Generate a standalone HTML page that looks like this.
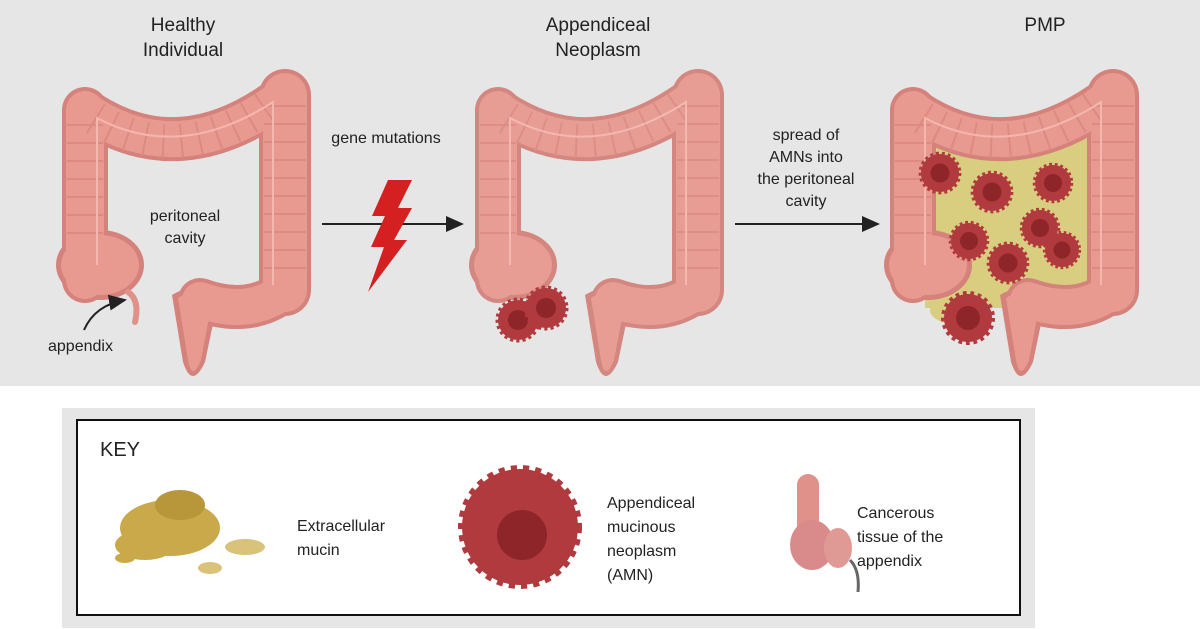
<!DOCTYPE html>
<html><head><meta charset="utf-8"><style>
body{margin:0;background:#fff;width:1200px;height:629px;overflow:hidden}
svg{display:block}
text{font-family:"Liberation Sans",sans-serif;fill:#222}
</style></head><body>
<svg width="1200" height="629" viewBox="0 0 1200 629">
<defs>
<marker id="ah" markerWidth="10" markerHeight="10" refX="8" refY="5" orient="auto"><path d="M0,1 L9,5 L0,9 Z" fill="#222"/></marker>
<g id="colon">
 <g fill="none" stroke-linecap="round" stroke-linejoin="round" stroke="#d4827b">
  <path d="M85 280 L85 110" stroke-width="46"/>
  <path d="M85 110 Q180 175 285 95" stroke-width="44"/>
  <path d="M285 95 L285 290" stroke-width="52"/>
  <path d="M285 290 Q250 318 200 300" stroke-width="44"/>
 </g>
 <ellipse cx="100" cy="265" rx="44" ry="35" fill="#d4827b"/>
 <path d="M172 295 Q200 278 218 300 L205 362 Q192 390 183 362 Z" fill="#d4827b"/>
 <g fill="none" stroke-linecap="round" stroke-linejoin="round" stroke="#e99a90">
  <path d="M85 280 L85 110" stroke-width="38"/>
  <path d="M85 110 Q180 175 285 95" stroke-width="36"/>
  <path d="M285 95 L285 290" stroke-width="44"/>
  <path d="M285 290 Q250 318 200 300" stroke-width="36"/>
 </g>
 <g fill="none" stroke="#dc8a82" stroke-dasharray="2 16">
  <path d="M85 270 L85 115" stroke-width="36"/>
  <path d="M95 118 Q180 172 275 100" stroke-width="34"/>
  <path d="M285 105 L285 285" stroke-width="42"/>
 </g>
 <ellipse cx="100" cy="265" rx="39" ry="30" fill="#e99a90"/>
 <path d="M178 298 Q200 284 212 302 L201 360 Q192 382 188 360 Z" fill="#e99a90"/>
 <g fill="none" stroke="#f3b7ae" stroke-width="2">
  <path d="M97 265 L97 118 Q180 162 273 102 L273 285"/>
 </g>
</g>
<g id="tum">
 <circle r="20" fill="#b03a3e" stroke="#b03a3e" stroke-width="5" stroke-dasharray="3 3"/>
 <circle r="10" fill="#8e2529"/>
</g>
</defs>
<rect x="0" y="0" width="1200" height="386" fill="#e6e6e6"/>
<text x="183" y="31" font-size="19" text-anchor="middle">Healthy</text>
<text x="183" y="56" font-size="19" text-anchor="middle">Individual</text>
<text x="598" y="31" font-size="19" text-anchor="middle">Appendiceal</text>
<text x="598" y="56" font-size="19" text-anchor="middle">Neoplasm</text>
<text x="1045" y="31" font-size="19" text-anchor="middle">PMP</text>

<use href="#colon"/>
<path d="M128 292 Q140 300 135 322" stroke="#e0928a" stroke-width="6" fill="none" stroke-linecap="round"/>
<path d="M84 330 Q95 305 125 300" stroke="#222" stroke-width="2" fill="none" marker-end="url(#ah)"/>
<text x="185" y="221" font-size="16" text-anchor="middle">peritoneal</text>
<text x="185" y="243" font-size="16" text-anchor="middle">cavity</text>
<text x="48" y="351" font-size="16">appendix</text>

<text x="386" y="143" font-size="16" text-anchor="middle">gene mutations</text>
<line x1="322" y1="224" x2="462" y2="224" stroke="#222" stroke-width="2" marker-end="url(#ah)"/>
<polygon points="388,180 412,180 398,208 412,208 394,240 407,240 368,292 384,247 371,247 385,216 372,216" fill="#d42020"/>

<use href="#colon" transform="translate(413,0)" opacity="0.95"/>
<use href="#tum" transform="translate(518,320)"/>
<use href="#tum" transform="translate(546,308)"/>

<text x="806" y="140" font-size="16" text-anchor="middle">spread of</text>
<text x="806" y="162" font-size="16" text-anchor="middle">AMNs into</text>
<text x="806" y="184" font-size="16" text-anchor="middle">the peritoneal</text>
<text x="806" y="206" font-size="16" text-anchor="middle">cavity</text>
<line x1="735" y1="224" x2="878" y2="224" stroke="#222" stroke-width="2" marker-end="url(#ah)"/>

<rect x="925" y="138" width="165" height="170" fill="#d9cd80"/>
<ellipse cx="960" cy="310" rx="30" ry="15" fill="#d9cd80"/>
<use href="#colon" transform="translate(828,0)"/>
<use href="#tum" transform="translate(940,173) scale(0.95)"/>
<use href="#tum" transform="translate(992,192) scale(0.95)"/>
<use href="#tum" transform="translate(1053,183) scale(0.9)"/>
<use href="#tum" transform="translate(969,241) scale(0.9)"/>
<use href="#tum" transform="translate(1040,228) scale(0.9)"/>
<use href="#tum" transform="translate(1062,250) scale(0.85)"/>
<use href="#tum" transform="translate(1008,263) scale(0.95)"/>
<use href="#tum" transform="translate(968,318) scale(1.2)"/>

<rect x="62" y="408" width="973" height="220" fill="#e6e6e6"/>
<rect x="77" y="420" width="943" height="195" fill="#fff" stroke="#111" stroke-width="2"/>
<text x="100" y="456" font-size="20">KEY</text>
<g fill="#c9a94a">
 <ellipse cx="170" cy="528" rx="50" ry="28"/>
 <ellipse cx="145" cy="545" rx="30" ry="15"/>
 <ellipse cx="245" cy="547" rx="20" ry="8" fill="#d9c27a"/>
 <ellipse cx="210" cy="568" rx="12" ry="6" fill="#d9c27a"/>
 <ellipse cx="125" cy="558" rx="10" ry="5"/>
 <ellipse cx="180" cy="505" rx="25" ry="15" fill="#b8963a"/>
</g>
<text x="297" y="531" font-size="16">Extracellular</text>
<text x="297" y="555" font-size="16">mucin</text>
<circle cx="520" cy="527" r="58" fill="#b03a3e" stroke="#b03a3e" stroke-width="8" stroke-dasharray="6 6"/>
<circle cx="522" cy="535" r="25" fill="#8e2529"/>
<text x="607" y="508" font-size="16">Appendiceal</text>
<text x="607" y="532" font-size="16">mucinous</text>
<text x="607" y="556" font-size="16">neoplasm</text>
<text x="607" y="580" font-size="16">(AMN)</text>
<path d="M808 485 L808 530" stroke="#e0928a" stroke-width="22" stroke-linecap="round"/>
<ellipse cx="812" cy="545" rx="22" ry="25" fill="#d98a8a"/>
<ellipse cx="838" cy="548" rx="14" ry="20" fill="#e09a96"/>
<path d="M850 560 Q860 570 858 592" stroke="#666" stroke-width="3" fill="none"/>
<text x="857" y="518" font-size="16">Cancerous</text>
<text x="857" y="542" font-size="16">tissue of the</text>
<text x="857" y="566" font-size="16">appendix</text>
</svg>
</body></html>
